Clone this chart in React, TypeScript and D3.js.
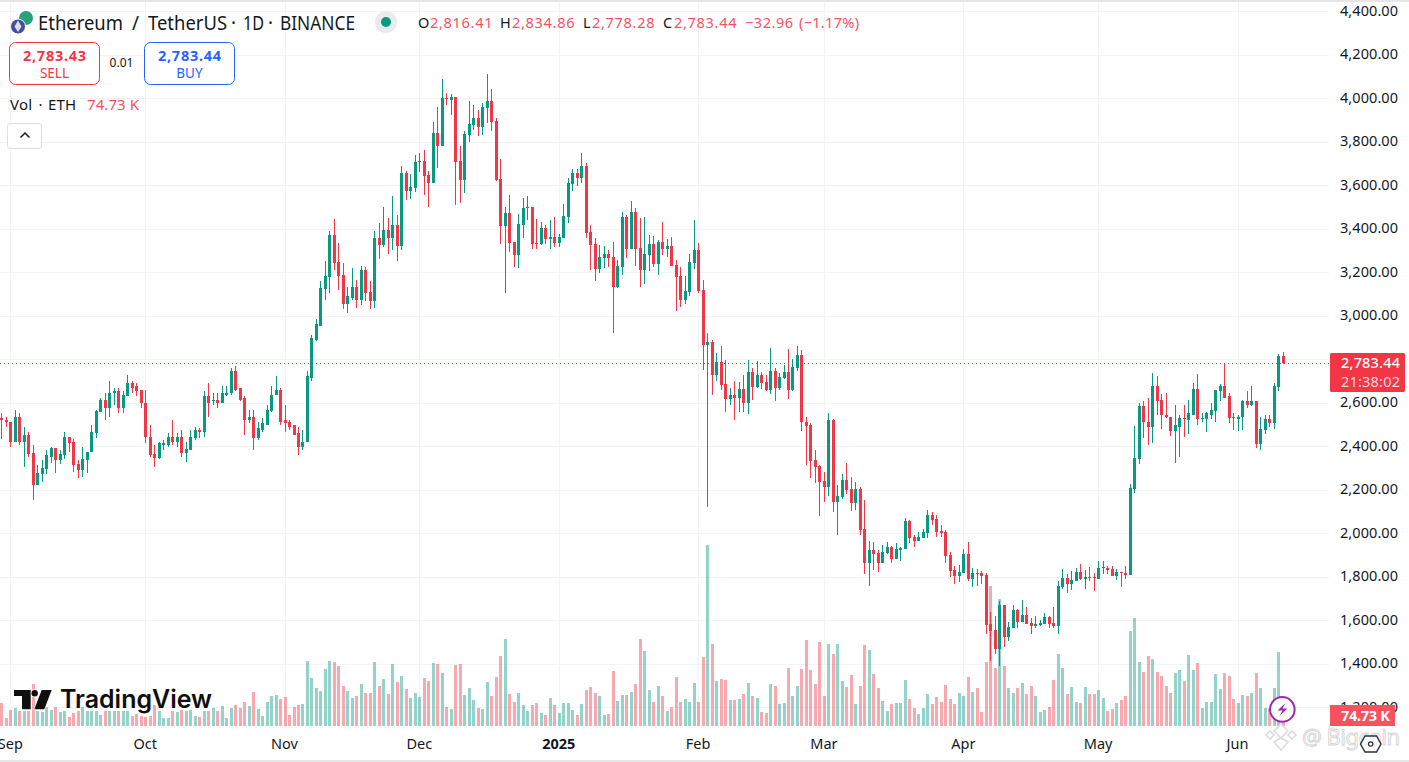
import * as d3 from 'd3';

const startDay = new Date(Date.UTC(2024, 7, 30));

const opens = [
  2528,2523,2514,2422,2537,2422,2450,2367,2220,2271,2294,2353,2390,2335,2358,2441,2418,2317,2289,2335,
  2372,2459,2556,2611,2574,2643,2652,2574,2629,2693,2675,2657,2601,2445,2363,2344,2408,2408,2441,2418,
  2441,2367,2381,2436,2477,2464,2629,2606,2611,2601,2638,2643,2744,2666,2620,2519,2537,2436,2477,2500,
  2560,2634,2657,2519,2510,2496,2459,2395,2418,2716,2891,2955,3121,3177,3370,3246,3186,3052,3084,3131,
  3071,3209,3108,3066,3356,3324,3393,3356,3416,3320,3656,3573,3587,3707,3711,3647,3610,3840,3780,4002,
  3992,4006,3711,3624,3831,3877,3909,3868,3955,3988,3896,3628,3412,3472,3338,3278,3416,3495,3499,3333,
  3329,3402,3352,3361,3333,3356,3453,3605,3656,3633,3688,3384,3329,3214,3264,3283,3269,3131,3224,3454,
  3307,3477,3311,3210,3279,3330,3238,3339,3307,3321,3233,3182,3072,3109,3242,3302,3118,2864,2878,2726,
  2786,2685,2616,2634,2620,2662,2597,2740,2671,2726,2694,2657,2745,2666,2712,2740,2657,2758,2818,2514,
  2496,2336,2308,2240,2212,2519,2143,2166,2244,2203,2139,2203,2020,1864,1924,1910,1864,1910,1937,1882,
  1924,1928,2056,1983,1965,1979,2001,2084,2066,2011,2006,1901,1832,1804,1818,1905,1791,1818,1818,1809,
  1585,1557,1470,1672,1521,1566,1649,1594,1626,1589,1576,1580,1585,1617,1589,1576,1754,1795,1768,1782,
  1823,1791,1800,1800,1791,1841,1841,1837,1805,1823,1818,1809,2203,2340,2583,2514,2491,2679,2611,2546,
  2537,2469,2491,2528,2519,2546,2665,2524,2524,2546,2560,2656,2679,2629,2533,2524,2533,2606,2588,2606,
  2409,2473,2524,2505,2674,2816.41,
];

const highs = [
  2551,2533,2514,2565,2551,2491,2464,2408,2312,2335,2381,2399,2390,2381,2464,2441,2432,2335,2395,2376,
  2496,2569,2620,2647,2702,2670,2670,2652,2730,2702,2693,2661,2657,2500,2404,2418,2427,2459,2519,2459,
  2473,2422,2473,2491,2482,2652,2689,2647,2647,2675,2675,2758,2767,2670,2629,2565,2565,2510,2528,2588,
  2679,2721,2670,2588,2523,2496,2491,2477,2744,2914,2983,3158,3250,3389,3444,3333,3241,3131,3218,3163,
  3227,3223,3158,3389,3426,3499,3449,3550,3462,3688,3665,3651,3739,3748,3762,3665,3891,3960,4089,4025,
  4020,4006,3780,3849,3988,3969,3946,3978,4112,4043,3909,3720,3499,3554,3340,3467,3541,3550,3499,3444,
  3430,3416,3439,3453,3375,3513,3633,3674,3674,3748,3702,3416,3356,3324,3319,3301,3338,3255,3477,3463,
  3528,3496,3449,3454,3371,3367,3348,3431,3353,3362,3256,3224,3182,3284,3440,3334,3164,2920,2888,2828,
  2860,2795,2666,2699,2694,2726,2795,2758,2791,2740,2726,2851,2758,2735,2772,2846,2800,2860,2841,2533,
  2505,2382,2313,2281,2551,2524,2221,2272,2322,2258,2235,2212,2153,1965,1960,1924,1947,1960,1942,1956,
  1937,2070,2061,1992,2006,2020,2107,2098,2084,2038,2015,1914,1850,1855,1928,1960,1841,1836,1827,1818,
  1640,1621,1690,1672,1594,1672,1653,1695,1663,1612,1621,1603,1635,1621,1663,1782,1836,1814,1827,1841,
  1859,1832,1846,1818,1873,1873,1850,1850,1837,1823,1850,2226,2492,2601,2606,2624,2739,2725,2640,2647,
  2537,2588,2546,2588,2615,2693,2734,2551,2556,2597,2661,2688,2785,2647,2551,2542,2615,2656,2679,2606,
  2533,2542,2546,2693,2826,2834.86,
];

const lows = [
  2432,2491,2399,2422,2408,2307,2349,2151,2220,2238,2271,2321,2275,2317,2340,2376,2284,2252,2261,2275,
  2372,2436,2556,2523,2537,2592,2555,2555,2629,2647,2629,2574,2413,2353,2307,2340,2385,2395,2404,2399,
  2349,2330,2381,2431,2436,2441,2537,2588,2574,2597,2629,2634,2652,2610,2450,2505,2381,2431,2464,2500,
  2560,2634,2500,2468,2477,2450,2358,2381,2418,2698,2886,2951,3071,3103,3209,3117,3029,3015,3071,3034,
  3048,3066,3029,3034,3260,3315,3283,3301,3250,3301,3532,3536,3568,3660,3555,3499,3610,3679,3780,3969,
  3923,3508,3518,3564,3799,3854,3826,3831,3886,3849,3619,3329,3103,3292,3223,3218,3356,3439,3306,3306,
  3324,3329,3306,3315,3315,3356,3425,3573,3596,3610,3356,3209,3158,3195,3218,3223,2919,3126,3187,3265,
  3307,3228,3132,3146,3205,3224,3187,3279,3270,3228,3021,3040,3053,3090,3215,3104,2749,2123,2634,2699,
  2657,2560,2588,2519,2560,2556,2547,2611,2666,2662,2653,2639,2606,2657,2708,2616,2653,2745,2469,2313,
  2253,2231,2079,2143,2171,2098,1992,2157,2180,2102,2107,1992,1814,1759,1832,1823,1864,1905,1864,1882,
  1873,1928,1956,1937,1965,1979,1979,2038,1983,1983,1864,1800,1768,1777,1818,1782,1754,1759,1768,1539,
  1415,1443,1388,1475,1507,1566,1566,1594,1585,1539,1566,1576,1585,1566,1566,1539,1745,1727,1740,1782,
  1786,1745,1782,1736,1791,1814,1814,1805,1786,1754,1791,1809,2185,2318,2437,2405,2414,2546,2478,2528,
  2446,2322,2350,2441,2455,2546,2496,2514,2464,2524,2510,2606,2620,2505,2473,2469,2473,2574,2583,2391,
  2382,2455,2491,2478,2656,2778.28,
];

const closes = [
  2523,2510,2422,2537,2422,2450,2363,2220,2275,2298,2358,2390,2335,2363,2441,2413,2312,2289,2340,2376,
  2464,2560,2611,2574,2647,2652,2574,2634,2693,2670,2652,2597,2441,2358,2344,2413,2413,2441,2418,2441,
  2367,2386,2441,2477,2464,2629,2601,2611,2601,2643,2647,2744,2661,2615,2519,2537,2436,2482,2505,2565,
  2638,2657,2514,2505,2491,2454,2395,2422,2721,2896,2960,3126,3181,3370,3241,3181,3052,3089,3131,3071,
  3209,3103,3066,3356,3324,3393,3356,3416,3320,3656,3573,3591,3707,3711,3642,3610,3840,3780,4002,3997,
  4006,3707,3624,3836,3882,3909,3868,3960,3988,3891,3624,3412,3472,3333,3278,3421,3495,3499,3329,3329,
  3402,3352,3361,3333,3361,3458,3610,3656,3633,3688,3379,3324,3214,3269,3283,3264,3131,3227,3454,3307,
  3477,3307,3210,3284,3330,3238,3339,3307,3321,3228,3178,3072,3113,3247,3302,3113,2864,2878,2726,2786,
  2680,2616,2634,2620,2662,2597,2740,2671,2726,2689,2657,2745,2666,2717,2740,2657,2763,2818,2510,2492,
  2331,2304,2235,2212,2519,2143,2171,2244,2198,2139,2203,2015,1864,1924,1905,1864,1914,1937,1882,1928,
  1933,2056,1979,1965,1983,2006,2084,2061,2006,2001,1896,1827,1804,1823,1905,1791,1818,1814,1804,1580,
  1553,1470,1672,1521,1571,1649,1594,1626,1585,1576,1585,1589,1617,1585,1576,1759,1795,1768,1786,1823,
  1791,1800,1795,1795,1841,1846,1832,1805,1823,1818,1809,2208,2345,2583,2510,2491,2679,2606,2542,2533,
  2469,2496,2528,2524,2551,2665,2524,2528,2551,2565,2661,2679,2624,2528,2528,2537,2606,2588,2606,2409,
  2478,2524,2505,2679,2816,2783.44,
];

// thousands of ETH
const volumes = [
  106,37,75,84,70,70,70,196,70,65,89,75,89,65,70,42,61,70,89,70,
  70,70,51,70,70,70,70,70,70,47,56,47,42,47,98,70,37,37,70,65,
  75,70,75,47,42,70,70,84,70,93,37,84,98,84,112,93,159,79,47,112,
  140,145,126,135,51,89,98,103,304,224,177,163,266,304,299,280,187,163,131,140,
  196,154,154,299,187,220,149,290,206,234,173,131,154,135,224,210,294,290,248,89,
  79,285,290,145,177,121,84,79,206,140,229,327,406,149,112,154,98,70,98,107,
  61,51,131,98,61,107,107,75,51,103,168,182,154,140,51,56,257,117,145,145,
  159,196,406,350,168,112,187,140,70,89,229,112,126,112,201,112,322,845,383,210,
  220,215,121,121,126,149,201,140,131,65,61,196,187,103,107,271,140,187,266,402,
  262,196,392,140,383,336,383,210,182,238,103,187,378,355,243,177,117,70,103,107,
  107,215,126,84,56,84,149,103,135,112,192,126,103,154,140,229,159,177,65,299,
  654,271,593,280,177,154,177,201,149,187,140,65,75,89,215,336,271,149,182,112,
  107,182,149,149,168,131,70,79,107,121,140,444,504,299,252,327,313,252,234,187,
  154,248,262,210,332,262,294,84,112,112,243,173,248,234,126,107,145,140,154,248,
  177,84,84,177,346,74.73,
];

const priceTicks = [1200,1400,1600,1800,2000,2200,2400,2600,2800,3000,3200,3400,3600,3800,4000,4200,4400];
const monthTicks = ['Sep','Oct','Nov','Dec','2025','Feb','Mar','Apr','May','Jun'];

const lastPrice = 2783.44;
const green = '#089981';
const red = '#f23645';
const softRed = '#f7525f';
const ink = '#131722';
const uiFont = '"Noto Sans", "Open Sans", sans-serif';

const WIDTH = 1409;
const HEIGHT = 762;

const x = d3.scaleUtc()
  .domain([startDay, d3.utcDay.offset(startDay, opens.length - 1)])
  .range([1.3, 1282.5]);
const y = d3.scaleLinear().domain([1200, 4400]).range([707.3, 11.3]);
const volY = d3.scaleLinear().domain([0, 1000]).range([726, 511.9]);
const months = d3.utcMonth.range(d3.utcMonth.ceil(startDay), d3.utcDay.offset(startDay, opens.length));
const price = d3.format(',.2f');

const titleWords = [
  { t: 'Ethereum', x: 38, w: 85 },
  { t: '/', x: 132, w: 7 },
  { t: 'TetherUS', x: 148, w: 79 },
  { t: '·', x: 231, w: 5 },
  { t: '1D', x: 243, w: 21 },
  { t: '·', x: 268, w: 5 },
  { t: 'BINANCE', x: 280, w: 75 },
];

const ohlcHeader = [
  { key: 'O', kx: 418, vx: 430, v: 2816.41 },
  { key: 'H', kx: 500, vx: 512, v: 2834.86 },
  { key: 'L', kx: 583, vx: 592, v: 2778.28 },
  { key: 'C', kx: 663, vx: 674, v: 2783.44 },
];

function Candles() {
  return (
    <g shapeRendering="crispEdges">
      {opens.map((o, i) => {
        const c = closes[i];
        const color = c >= o ? green : red;
        const cx = Math.round(x(d3.utcDay.offset(startDay, i)));
        const top = Math.round(y(Math.max(o, c)));
        const bottom = Math.round(y(Math.min(o, c)));
        return (
          <g key={i} fill={color}>
            <rect x={cx} y={y(highs[i])} width={1} height={y(lows[i]) - y(highs[i])} />
            <rect x={cx - 1} y={top} width={3} height={Math.max(1, bottom - top)} />
          </g>
        );
      })}
    </g>
  );
}

function Volumes() {
  return (
    <g shapeRendering="crispEdges" fillOpacity={0.43}>
      {volumes.map((v, i) => (
        <rect
          key={i}
          x={Math.round(x(d3.utcDay.offset(startDay, i))) - 1}
          y={volY(v)}
          width={3}
          height={volY(0) - volY(v)}
          fill={closes[i] >= opens[i] ? green : red}
        />
      ))}
    </g>
  );
}

function Logo() {
  return (
    <g fill="#0f0f0f" stroke="#fff" strokeWidth={1.5} paintOrder="stroke">
      <path d="M14 690H30.7V709.3H22V696H14Z" />
      <circle cx={34.7} cy={693.3} r={3.2} />
      <path d="M41.7 690H51.7L44.3 709.3H34.3Z" />
      <text
        x={60}
        y={708}
        fontFamily="Inter, sans-serif"
        fontWeight={600}
        fontSize={25}
        textLength={152}
        lengthAdjust="spacingAndGlyphs"
      >
        TradingView
      </text>
    </g>
  );
}

function Header() {
  return (
    <g fontFamily={uiFont}>
      <circle cx={26} cy={18} r={7} fill="#26a17b" />
      <circle cx={18} cy={26.5} r={7.5} fill="#4a4d9b" stroke="#fff" strokeWidth={1} />
      <path d="M18 20.5L21.5 26.5L18 32L14.5 26.5Z" fill="#cfe3ff" />
      {titleWords.map((d, i) => (
        <text key={i} x={d.x} y={30} fontSize={19} fill={ink} textLength={d.w} lengthAdjust="spacingAndGlyphs">
          {d.t}
        </text>
      ))}
      <circle cx={386} cy={22} r={11} fill="#e9ecef" />
      <circle cx={386} cy={22} r={5} fill={green} />

      {ohlcHeader.map(d => (
        <g key={d.key} fontSize={14.5}>
          <text x={d.kx} y={28} fill={ink}>{d.key}</text>
          <text x={d.vx} y={28} fill={softRed} textLength={62.5}>{price(d.v)}</text>
        </g>
      ))}
      <text x={745} y={28} fontSize={14.5} fill={softRed} textLength={48}>−32.96</text>
      <text x={799} y={28} fontSize={14.5} fill={softRed} textLength={60}>(−1.17%)</text>

      <rect x={9.5} y={42.5} width={90} height={42} rx={6} fill="#fff" stroke={red} />
      <text x={23} y={61} fontSize={14.5} fontWeight={700} fill={red} textLength={63}>2,783.43</text>
      <text x={54.5} y={78} textAnchor="middle" fontSize={13.5} fill={red}>SELL</text>
      <text x={121.5} y={67} textAnchor="middle" fontSize={12} fill={ink}>0.01</text>
      <rect x={144.5} y={42.5} width={90} height={42} rx={6} fill="#fff" stroke="#2962ff" />
      <text x={158} y={61} fontSize={14.5} fontWeight={700} fill="#2962ff" textLength={63}>2,783.44</text>
      <text x={189.5} y={78} textAnchor="middle" fontSize={13.5} fill="#2962ff">BUY</text>

      <text x={10} y={110} fontSize={15} fill={ink} textLength={22}>Vol</text>
      <text x={38.5} y={110} fontSize={15} fill={ink}>·</text>
      <text x={48} y={110} fontSize={15} fill={ink} textLength={28}>ETH</text>
      <text x={87} y={110} fontSize={15} fill={softRed} textLength={52}>74.73 K</text>

      <rect x={7.5} y={123.5} width={34} height={25} rx={3} fill="#fff" stroke="#dcdfe6" />
      <path d="M20.5 137.5L25 133L29.5 137.5" fill="none" stroke={ink} strokeWidth={1.5} />
    </g>
  );
}

function RightAxis() {
  return (
    <g fontFamily={uiFont}>
      {priceTicks.map(t => (
        <text key={t} x={1340} y={y(t) - 1} dy="0.36em" fontSize={14.5} fill={ink} textLength={t < 1000 ? 50 : 58}>
          {price(t)}
        </text>
      ))}
      <rect x={1330} y={353} width={75} height={39} rx={1.5} fill={red} />
      <text x={1341} y={367.5} fontSize={14.5} fontWeight={500} fill="#fff" textLength={59}>
        {price(lastPrice)}
      </text>
      <text x={1341} y={386.5} fontSize={14.5} fill="#fcd5d8" textLength={59}>21:38:02</text>
      <rect x={1330} y={705} width={65} height={21} fill={softRed} />
      <text x={1341} y={720.5} fontSize={14.5} fontWeight={700} fill="#fff" textLength={49}>74.73 K</text>
    </g>
  );
}

function Overlays() {
  return (
    <g>
      <circle cx={1282.3} cy={709.4} r={12.3} fill="#fff" stroke="#9c27b0" strokeWidth={2} />
      <path d="M1285.5 703L1277.5 710.5H1282.5L1279.5 716L1287.5 708.5H1282.5Z" fill="#9c27b0" />
      <g fill="none" stroke="#dcdce0" strokeWidth={1.6}>
        <path d="M1281 724L1288 731L1281 738L1274 731Z" />
        <path d="M1270 731L1274 735L1270 739L1266 735Z" />
        <path d="M1292 731L1296 735L1292 739L1288 735Z" />
        <path d="M1281 738L1288 742L1281 750L1274 742Z" />
      </g>
      <text
        x={1302}
        y={745}
        fontFamily={uiFont}
        fontSize={22}
        fill="#fff"
        stroke="#d2d2d7"
        strokeWidth={0.9}
        textLength={98}
      >
        @ Bigcoin
      </text>
      <path
        d="M1365 736H1376.5L1381 744L1376.5 752H1365L1360.5 744Z"
        fill="#fff"
        fillOpacity={0.6}
        stroke="#2a2e39"
        strokeWidth={1.4}
      />
      <circle cx={1370.7} cy={744} r={2.2} fill="none" stroke="#2a2e39" strokeWidth={1.2} />
    </g>
  );
}

export default function App() {
  return (
    <svg
      width={WIDTH}
      height={HEIGHT}
      viewBox={`0 0 ${WIDTH} ${HEIGHT}`}
      style={{ position: 'fixed', left: 0, top: 0, background: '#fff', display: 'block' }}
    >
      <rect x={0} y={0} width={WIDTH} height={2} fill="#e6e6e6" />
      <rect x={0} y={760} width={WIDTH} height={2} fill="#e6e6e6" />

      <g stroke="#f2f3f5" shapeRendering="crispEdges">
        {priceTicks.map(t => (
          <line key={t} x1={0} x2={1329} y1={Math.round(y(t))} y2={Math.round(y(t))} />
        ))}
        {months.map((m, i) => (
          <line key={i} x1={Math.round(x(m))} x2={Math.round(x(m))} y1={2} y2={727} />
        ))}
      </g>

      <Volumes />
      <Candles />
      <line
        x1={0}
        x2={1330}
        y1={Math.round(y(lastPrice))}
        y2={Math.round(y(lastPrice))}
        stroke={red}
        strokeDasharray="1 3"
        shapeRendering="crispEdges"
      />
      <Logo />
      <Header />
      <RightAxis />

      <g fontFamily={uiFont} fontSize={14.5} fill={ink} textAnchor="middle">
        {months.map((m, i) => (
          <text key={i} x={x(m)} y={749} fontWeight={monthTicks[i] === '2025' ? 700 : 400}>
            {monthTicks[i]}
          </text>
        ))}
      </g>
      <Overlays />
    </svg>
  );
}
